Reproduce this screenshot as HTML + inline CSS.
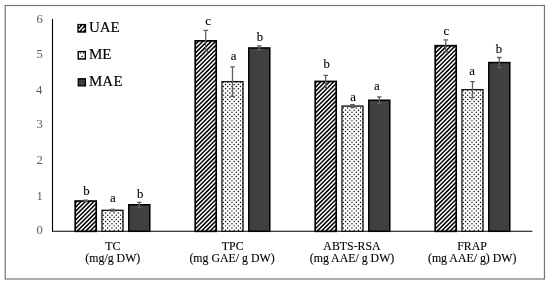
<!DOCTYPE html>
<html><head><meta charset="utf-8"><title>chart</title>
<style>
html,body{margin:0;padding:0;background:#fff;}
svg{display:block;}
text{font-family:"Liberation Serif","Times New Roman",serif;}
</style></head><body>
<svg width="550" height="284" viewBox="0 0 550 284">
<defs>
</defs>
<rect width="550" height="284" fill="#fff"/>
<rect x="5.2" y="5.5" width="539.25" height="273.5" fill="none" stroke="#747474" stroke-width="1.2"/>

<line x1="52.5" y1="18.9" x2="52.5" y2="231.9" stroke="#000" stroke-width="1.1"/>
<line x1="52" y1="231.3" x2="532.4" y2="231.3" stroke="#000" stroke-width="1.1"/>
<text x="39.6" y="234.20" font-size="12.6" fill="#595959" text-anchor="middle">0</text>
<text x="39.6" y="199.67" font-size="12.6" fill="#595959" text-anchor="middle">1</text>
<text x="39.6" y="164.04" font-size="12.6" fill="#595959" text-anchor="middle">2</text>
<text x="39.6" y="128.41" font-size="12.6" fill="#595959" text-anchor="middle">3</text>
<text x="39.2" y="93.98" font-size="12.6" fill="#595959" text-anchor="middle">4</text>
<text x="39.6" y="58.30" font-size="12.6" fill="#595959" text-anchor="middle">5</text>
<text x="39.6" y="22.52" font-size="12.6" fill="#595959" text-anchor="middle">6</text>
<clipPath id="c0"><rect x="75.20" y="201.05" width="21.00" height="30.25"/></clipPath>
<rect x="75.20" y="201.05" width="21.00" height="30.25" fill="#fff"/>
<path clip-path="url(#c0)" d="M37.45 232.30L69.70 200.05M41.74 232.30L73.99 200.05M46.02 232.30L78.27 200.05M50.31 232.30L82.56 200.05M54.59 232.30L86.84 200.05M58.88 232.30L91.13 200.05M63.16 232.30L95.41 200.05M67.45 232.30L99.70 200.05M71.74 232.30L103.99 200.05M76.02 232.30L108.27 200.05M80.31 232.30L112.56 200.05M84.59 232.30L116.84 200.05M88.88 232.30L121.13 200.05M93.16 232.30L125.41 200.05M97.45 232.30L129.70 200.05M101.74 232.30L133.99 200.05" stroke="#000" stroke-width="1.52" fill="none"/>
<rect x="75.20" y="201.05" width="21.00" height="30.25" fill="none" stroke="#000" stroke-width="1.70"/>
<path d="M85.70 200.25V201.85M83.40 200.25H88.00M83.40 201.85H88.00" stroke="#606060" stroke-width="1.3" fill="none"/>
<text x="86.4" y="194.8" font-size="12.8" fill="#000" stroke="#000" stroke-width="0.12" text-anchor="middle">b</text>
<clipPath id="d0"><rect x="102.00" y="210.30" width="21.00" height="21.00"/></clipPath>
<rect x="102.00" y="210.30" width="21.00" height="21.00" fill="#fff"/>
<path clip-path="url(#d0)" d="M101.26 213.00h0M101.26 217.29h0M101.26 221.57h0M101.26 225.86h0M101.26 230.14h0M105.55 213.00h0M105.55 217.29h0M105.55 221.57h0M105.55 225.86h0M105.55 230.14h0M109.84 213.00h0M109.84 217.29h0M109.84 221.57h0M109.84 225.86h0M109.84 230.14h0M114.12 213.00h0M114.12 217.29h0M114.12 221.57h0M114.12 225.86h0M114.12 230.14h0M118.41 213.00h0M118.41 217.29h0M118.41 221.57h0M118.41 225.86h0M118.41 230.14h0M122.69 213.00h0M122.69 217.29h0M122.69 221.57h0M122.69 225.86h0M122.69 230.14h0M103.41 210.86h0M103.41 215.14h0M103.41 219.43h0M103.41 223.71h0M103.41 228.00h0M103.41 232.29h0M107.69 210.86h0M107.69 215.14h0M107.69 219.43h0M107.69 223.71h0M107.69 228.00h0M107.69 232.29h0M111.98 210.86h0M111.98 215.14h0M111.98 219.43h0M111.98 223.71h0M111.98 228.00h0M111.98 232.29h0M116.26 210.86h0M116.26 215.14h0M116.26 219.43h0M116.26 223.71h0M116.26 228.00h0M116.26 232.29h0M120.55 210.86h0M120.55 215.14h0M120.55 219.43h0M120.55 223.71h0M120.55 228.00h0M120.55 232.29h0" stroke="#000" stroke-width="1.44" stroke-linecap="round" fill="none"/>
<rect x="102.00" y="210.30" width="21.00" height="21.00" fill="none" stroke="#141414" stroke-width="1.35"/>
<path d="M112.50 209.50V211.10M110.20 209.50H114.80M110.20 211.10H114.80" stroke="#606060" stroke-width="1.3" fill="none"/>
<text x="112.8" y="202.0" font-size="12.8" fill="#000" stroke="#000" stroke-width="0.12" text-anchor="middle">a</text>
<rect x="128.80" y="204.75" width="21.00" height="26.55" fill="#404040" stroke="#000" stroke-width="1.50"/>
<path d="M139.30 202.45V207.05M137.00 202.45H141.60M137.00 207.05H141.60" stroke="#606060" stroke-width="1.3" fill="none"/>
<text x="140.2" y="198.3" font-size="12.8" fill="#000" stroke="#000" stroke-width="0.12" text-anchor="middle">b</text>
<clipPath id="c1"><rect x="195.20" y="40.85" width="21.00" height="190.45"/></clipPath>
<rect x="195.20" y="40.85" width="21.00" height="190.45" fill="#fff"/>
<path clip-path="url(#c1)" d="M-1.12 232.30L191.33 39.85M3.16 232.30L195.61 39.85M7.45 232.30L199.90 39.85M11.74 232.30L204.19 39.85M16.02 232.30L208.47 39.85M20.31 232.30L212.76 39.85M24.59 232.30L217.04 39.85M28.88 232.30L221.33 39.85M33.16 232.30L225.61 39.85M37.45 232.30L229.90 39.85M41.74 232.30L234.19 39.85M46.02 232.30L238.47 39.85M50.31 232.30L242.76 39.85M54.59 232.30L247.04 39.85M58.88 232.30L251.33 39.85M63.16 232.30L255.61 39.85M67.45 232.30L259.90 39.85M71.74 232.30L264.19 39.85M76.02 232.30L268.47 39.85M80.31 232.30L272.76 39.85M84.59 232.30L277.04 39.85M88.88 232.30L281.33 39.85M93.16 232.30L285.61 39.85M97.45 232.30L289.90 39.85M101.74 232.30L294.19 39.85M106.02 232.30L298.47 39.85M110.31 232.30L302.76 39.85M114.59 232.30L307.04 39.85M118.88 232.30L311.33 39.85M123.16 232.30L315.61 39.85M127.45 232.30L319.90 39.85M131.74 232.30L324.19 39.85M136.02 232.30L328.47 39.85M140.31 232.30L332.76 39.85M144.59 232.30L337.04 39.85M148.88 232.30L341.33 39.85M153.16 232.30L345.61 39.85M157.45 232.30L349.90 39.85M161.74 232.30L354.19 39.85M166.02 232.30L358.47 39.85M170.31 232.30L362.76 39.85M174.59 232.30L367.04 39.85M178.88 232.30L371.33 39.85M183.16 232.30L375.61 39.85M187.45 232.30L379.90 39.85M191.74 232.30L384.19 39.85M196.02 232.30L388.47 39.85M200.31 232.30L392.76 39.85M204.59 232.30L397.04 39.85M208.88 232.30L401.33 39.85M213.16 232.30L405.61 39.85M217.45 232.30L409.90 39.85M221.74 232.30L414.19 39.85" stroke="#000" stroke-width="1.52" fill="none"/>
<rect x="195.20" y="40.85" width="21.00" height="190.45" fill="none" stroke="#000" stroke-width="1.70"/>
<path d="M205.70 30.45V51.25M203.40 30.45H208.00M203.40 51.25H208.00" stroke="#606060" stroke-width="1.3" fill="none"/>
<text x="208.2" y="24.8" font-size="12.8" fill="#000" stroke="#000" stroke-width="0.12" text-anchor="middle">c</text>
<clipPath id="d1"><rect x="222.00" y="81.65" width="21.00" height="149.65"/></clipPath>
<rect x="222.00" y="81.65" width="21.00" height="149.65" fill="#fff"/>
<path clip-path="url(#d1)" d="M221.26 84.43h0M221.26 88.71h0M221.26 93.00h0M221.26 97.29h0M221.26 101.57h0M221.26 105.86h0M221.26 110.14h0M221.26 114.43h0M221.26 118.71h0M221.26 123.00h0M221.26 127.29h0M221.26 131.57h0M221.26 135.86h0M221.26 140.14h0M221.26 144.43h0M221.26 148.71h0M221.26 153.00h0M221.26 157.29h0M221.26 161.57h0M221.26 165.86h0M221.26 170.14h0M221.26 174.43h0M221.26 178.71h0M221.26 183.00h0M221.26 187.29h0M221.26 191.57h0M221.26 195.86h0M221.26 200.14h0M221.26 204.43h0M221.26 208.71h0M221.26 213.00h0M221.26 217.29h0M221.26 221.57h0M221.26 225.86h0M221.26 230.14h0M225.55 84.43h0M225.55 88.71h0M225.55 93.00h0M225.55 97.29h0M225.55 101.57h0M225.55 105.86h0M225.55 110.14h0M225.55 114.43h0M225.55 118.71h0M225.55 123.00h0M225.55 127.29h0M225.55 131.57h0M225.55 135.86h0M225.55 140.14h0M225.55 144.43h0M225.55 148.71h0M225.55 153.00h0M225.55 157.29h0M225.55 161.57h0M225.55 165.86h0M225.55 170.14h0M225.55 174.43h0M225.55 178.71h0M225.55 183.00h0M225.55 187.29h0M225.55 191.57h0M225.55 195.86h0M225.55 200.14h0M225.55 204.43h0M225.55 208.71h0M225.55 213.00h0M225.55 217.29h0M225.55 221.57h0M225.55 225.86h0M225.55 230.14h0M229.84 84.43h0M229.84 88.71h0M229.84 93.00h0M229.84 97.29h0M229.84 101.57h0M229.84 105.86h0M229.84 110.14h0M229.84 114.43h0M229.84 118.71h0M229.84 123.00h0M229.84 127.29h0M229.84 131.57h0M229.84 135.86h0M229.84 140.14h0M229.84 144.43h0M229.84 148.71h0M229.84 153.00h0M229.84 157.29h0M229.84 161.57h0M229.84 165.86h0M229.84 170.14h0M229.84 174.43h0M229.84 178.71h0M229.84 183.00h0M229.84 187.29h0M229.84 191.57h0M229.84 195.86h0M229.84 200.14h0M229.84 204.43h0M229.84 208.71h0M229.84 213.00h0M229.84 217.29h0M229.84 221.57h0M229.84 225.86h0M229.84 230.14h0M234.12 84.43h0M234.12 88.71h0M234.12 93.00h0M234.12 97.29h0M234.12 101.57h0M234.12 105.86h0M234.12 110.14h0M234.12 114.43h0M234.12 118.71h0M234.12 123.00h0M234.12 127.29h0M234.12 131.57h0M234.12 135.86h0M234.12 140.14h0M234.12 144.43h0M234.12 148.71h0M234.12 153.00h0M234.12 157.29h0M234.12 161.57h0M234.12 165.86h0M234.12 170.14h0M234.12 174.43h0M234.12 178.71h0M234.12 183.00h0M234.12 187.29h0M234.12 191.57h0M234.12 195.86h0M234.12 200.14h0M234.12 204.43h0M234.12 208.71h0M234.12 213.00h0M234.12 217.29h0M234.12 221.57h0M234.12 225.86h0M234.12 230.14h0M238.41 84.43h0M238.41 88.71h0M238.41 93.00h0M238.41 97.29h0M238.41 101.57h0M238.41 105.86h0M238.41 110.14h0M238.41 114.43h0M238.41 118.71h0M238.41 123.00h0M238.41 127.29h0M238.41 131.57h0M238.41 135.86h0M238.41 140.14h0M238.41 144.43h0M238.41 148.71h0M238.41 153.00h0M238.41 157.29h0M238.41 161.57h0M238.41 165.86h0M238.41 170.14h0M238.41 174.43h0M238.41 178.71h0M238.41 183.00h0M238.41 187.29h0M238.41 191.57h0M238.41 195.86h0M238.41 200.14h0M238.41 204.43h0M238.41 208.71h0M238.41 213.00h0M238.41 217.29h0M238.41 221.57h0M238.41 225.86h0M238.41 230.14h0M242.69 84.43h0M242.69 88.71h0M242.69 93.00h0M242.69 97.29h0M242.69 101.57h0M242.69 105.86h0M242.69 110.14h0M242.69 114.43h0M242.69 118.71h0M242.69 123.00h0M242.69 127.29h0M242.69 131.57h0M242.69 135.86h0M242.69 140.14h0M242.69 144.43h0M242.69 148.71h0M242.69 153.00h0M242.69 157.29h0M242.69 161.57h0M242.69 165.86h0M242.69 170.14h0M242.69 174.43h0M242.69 178.71h0M242.69 183.00h0M242.69 187.29h0M242.69 191.57h0M242.69 195.86h0M242.69 200.14h0M242.69 204.43h0M242.69 208.71h0M242.69 213.00h0M242.69 217.29h0M242.69 221.57h0M242.69 225.86h0M242.69 230.14h0M223.41 82.29h0M223.41 86.57h0M223.41 90.86h0M223.41 95.14h0M223.41 99.43h0M223.41 103.71h0M223.41 108.00h0M223.41 112.29h0M223.41 116.57h0M223.41 120.86h0M223.41 125.14h0M223.41 129.43h0M223.41 133.71h0M223.41 138.00h0M223.41 142.29h0M223.41 146.57h0M223.41 150.86h0M223.41 155.14h0M223.41 159.43h0M223.41 163.71h0M223.41 168.00h0M223.41 172.29h0M223.41 176.57h0M223.41 180.86h0M223.41 185.14h0M223.41 189.43h0M223.41 193.71h0M223.41 198.00h0M223.41 202.29h0M223.41 206.57h0M223.41 210.86h0M223.41 215.14h0M223.41 219.43h0M223.41 223.71h0M223.41 228.00h0M223.41 232.29h0M227.69 82.29h0M227.69 86.57h0M227.69 90.86h0M227.69 95.14h0M227.69 99.43h0M227.69 103.71h0M227.69 108.00h0M227.69 112.29h0M227.69 116.57h0M227.69 120.86h0M227.69 125.14h0M227.69 129.43h0M227.69 133.71h0M227.69 138.00h0M227.69 142.29h0M227.69 146.57h0M227.69 150.86h0M227.69 155.14h0M227.69 159.43h0M227.69 163.71h0M227.69 168.00h0M227.69 172.29h0M227.69 176.57h0M227.69 180.86h0M227.69 185.14h0M227.69 189.43h0M227.69 193.71h0M227.69 198.00h0M227.69 202.29h0M227.69 206.57h0M227.69 210.86h0M227.69 215.14h0M227.69 219.43h0M227.69 223.71h0M227.69 228.00h0M227.69 232.29h0M231.98 82.29h0M231.98 86.57h0M231.98 90.86h0M231.98 95.14h0M231.98 99.43h0M231.98 103.71h0M231.98 108.00h0M231.98 112.29h0M231.98 116.57h0M231.98 120.86h0M231.98 125.14h0M231.98 129.43h0M231.98 133.71h0M231.98 138.00h0M231.98 142.29h0M231.98 146.57h0M231.98 150.86h0M231.98 155.14h0M231.98 159.43h0M231.98 163.71h0M231.98 168.00h0M231.98 172.29h0M231.98 176.57h0M231.98 180.86h0M231.98 185.14h0M231.98 189.43h0M231.98 193.71h0M231.98 198.00h0M231.98 202.29h0M231.98 206.57h0M231.98 210.86h0M231.98 215.14h0M231.98 219.43h0M231.98 223.71h0M231.98 228.00h0M231.98 232.29h0M236.26 82.29h0M236.26 86.57h0M236.26 90.86h0M236.26 95.14h0M236.26 99.43h0M236.26 103.71h0M236.26 108.00h0M236.26 112.29h0M236.26 116.57h0M236.26 120.86h0M236.26 125.14h0M236.26 129.43h0M236.26 133.71h0M236.26 138.00h0M236.26 142.29h0M236.26 146.57h0M236.26 150.86h0M236.26 155.14h0M236.26 159.43h0M236.26 163.71h0M236.26 168.00h0M236.26 172.29h0M236.26 176.57h0M236.26 180.86h0M236.26 185.14h0M236.26 189.43h0M236.26 193.71h0M236.26 198.00h0M236.26 202.29h0M236.26 206.57h0M236.26 210.86h0M236.26 215.14h0M236.26 219.43h0M236.26 223.71h0M236.26 228.00h0M236.26 232.29h0M240.55 82.29h0M240.55 86.57h0M240.55 90.86h0M240.55 95.14h0M240.55 99.43h0M240.55 103.71h0M240.55 108.00h0M240.55 112.29h0M240.55 116.57h0M240.55 120.86h0M240.55 125.14h0M240.55 129.43h0M240.55 133.71h0M240.55 138.00h0M240.55 142.29h0M240.55 146.57h0M240.55 150.86h0M240.55 155.14h0M240.55 159.43h0M240.55 163.71h0M240.55 168.00h0M240.55 172.29h0M240.55 176.57h0M240.55 180.86h0M240.55 185.14h0M240.55 189.43h0M240.55 193.71h0M240.55 198.00h0M240.55 202.29h0M240.55 206.57h0M240.55 210.86h0M240.55 215.14h0M240.55 219.43h0M240.55 223.71h0M240.55 228.00h0M240.55 232.29h0" stroke="#000" stroke-width="1.44" stroke-linecap="round" fill="none"/>
<rect x="222.00" y="81.65" width="21.00" height="149.65" fill="none" stroke="#141414" stroke-width="1.35"/>
<path d="M232.50 66.85V96.45M230.20 66.85H234.80M230.20 96.45H234.80" stroke="#606060" stroke-width="1.3" fill="none"/>
<text x="233.7" y="60.1" font-size="12.8" fill="#000" stroke="#000" stroke-width="0.12" text-anchor="middle">a</text>
<rect x="248.80" y="47.95" width="21.00" height="183.35" fill="#404040" stroke="#000" stroke-width="1.50"/>
<path d="M259.30 45.95V49.95M257.00 45.95H261.60M257.00 49.95H261.60" stroke="#606060" stroke-width="1.3" fill="none"/>
<text x="259.9" y="40.8" font-size="12.8" fill="#000" stroke="#000" stroke-width="0.12" text-anchor="middle">b</text>
<clipPath id="c2"><rect x="315.20" y="81.45" width="21.00" height="149.85"/></clipPath>
<rect x="315.20" y="81.45" width="21.00" height="149.85" fill="#fff"/>
<path clip-path="url(#c2)" d="M157.45 232.30L309.30 80.45M161.74 232.30L313.59 80.45M166.02 232.30L317.87 80.45M170.31 232.30L322.16 80.45M174.59 232.30L326.44 80.45M178.88 232.30L330.73 80.45M183.16 232.30L335.01 80.45M187.45 232.30L339.30 80.45M191.74 232.30L343.59 80.45M196.02 232.30L347.87 80.45M200.31 232.30L352.16 80.45M204.59 232.30L356.44 80.45M208.88 232.30L360.73 80.45M213.16 232.30L365.01 80.45M217.45 232.30L369.30 80.45M221.74 232.30L373.59 80.45M226.02 232.30L377.87 80.45M230.31 232.30L382.16 80.45M234.59 232.30L386.44 80.45M238.88 232.30L390.73 80.45M243.16 232.30L395.01 80.45M247.45 232.30L399.30 80.45M251.74 232.30L403.59 80.45M256.02 232.30L407.87 80.45M260.31 232.30L412.16 80.45M264.59 232.30L416.44 80.45M268.88 232.30L420.73 80.45M273.16 232.30L425.01 80.45M277.45 232.30L429.30 80.45M281.74 232.30L433.59 80.45M286.02 232.30L437.87 80.45M290.31 232.30L442.16 80.45M294.59 232.30L446.44 80.45M298.88 232.30L450.73 80.45M303.16 232.30L455.01 80.45M307.45 232.30L459.30 80.45M311.74 232.30L463.59 80.45M316.02 232.30L467.87 80.45M320.31 232.30L472.16 80.45M324.59 232.30L476.44 80.45M328.88 232.30L480.73 80.45M333.16 232.30L485.01 80.45M337.45 232.30L489.30 80.45M341.74 232.30L493.59 80.45" stroke="#000" stroke-width="1.52" fill="none"/>
<rect x="315.20" y="81.45" width="21.00" height="149.85" fill="none" stroke="#000" stroke-width="1.70"/>
<path d="M325.70 75.35V87.55M323.40 75.35H328.00M323.40 87.55H328.00" stroke="#606060" stroke-width="1.3" fill="none"/>
<text x="326.7" y="68.3" font-size="12.8" fill="#000" stroke="#000" stroke-width="0.12" text-anchor="middle">b</text>
<clipPath id="d2"><rect x="342.00" y="106.05" width="21.00" height="125.25"/></clipPath>
<rect x="342.00" y="106.05" width="21.00" height="125.25" fill="#fff"/>
<path clip-path="url(#d2)" d="M341.26 105.86h0M341.26 110.14h0M341.26 114.43h0M341.26 118.71h0M341.26 123.00h0M341.26 127.29h0M341.26 131.57h0M341.26 135.86h0M341.26 140.14h0M341.26 144.43h0M341.26 148.71h0M341.26 153.00h0M341.26 157.29h0M341.26 161.57h0M341.26 165.86h0M341.26 170.14h0M341.26 174.43h0M341.26 178.71h0M341.26 183.00h0M341.26 187.29h0M341.26 191.57h0M341.26 195.86h0M341.26 200.14h0M341.26 204.43h0M341.26 208.71h0M341.26 213.00h0M341.26 217.29h0M341.26 221.57h0M341.26 225.86h0M341.26 230.14h0M345.55 105.86h0M345.55 110.14h0M345.55 114.43h0M345.55 118.71h0M345.55 123.00h0M345.55 127.29h0M345.55 131.57h0M345.55 135.86h0M345.55 140.14h0M345.55 144.43h0M345.55 148.71h0M345.55 153.00h0M345.55 157.29h0M345.55 161.57h0M345.55 165.86h0M345.55 170.14h0M345.55 174.43h0M345.55 178.71h0M345.55 183.00h0M345.55 187.29h0M345.55 191.57h0M345.55 195.86h0M345.55 200.14h0M345.55 204.43h0M345.55 208.71h0M345.55 213.00h0M345.55 217.29h0M345.55 221.57h0M345.55 225.86h0M345.55 230.14h0M349.84 105.86h0M349.84 110.14h0M349.84 114.43h0M349.84 118.71h0M349.84 123.00h0M349.84 127.29h0M349.84 131.57h0M349.84 135.86h0M349.84 140.14h0M349.84 144.43h0M349.84 148.71h0M349.84 153.00h0M349.84 157.29h0M349.84 161.57h0M349.84 165.86h0M349.84 170.14h0M349.84 174.43h0M349.84 178.71h0M349.84 183.00h0M349.84 187.29h0M349.84 191.57h0M349.84 195.86h0M349.84 200.14h0M349.84 204.43h0M349.84 208.71h0M349.84 213.00h0M349.84 217.29h0M349.84 221.57h0M349.84 225.86h0M349.84 230.14h0M354.12 105.86h0M354.12 110.14h0M354.12 114.43h0M354.12 118.71h0M354.12 123.00h0M354.12 127.29h0M354.12 131.57h0M354.12 135.86h0M354.12 140.14h0M354.12 144.43h0M354.12 148.71h0M354.12 153.00h0M354.12 157.29h0M354.12 161.57h0M354.12 165.86h0M354.12 170.14h0M354.12 174.43h0M354.12 178.71h0M354.12 183.00h0M354.12 187.29h0M354.12 191.57h0M354.12 195.86h0M354.12 200.14h0M354.12 204.43h0M354.12 208.71h0M354.12 213.00h0M354.12 217.29h0M354.12 221.57h0M354.12 225.86h0M354.12 230.14h0M358.41 105.86h0M358.41 110.14h0M358.41 114.43h0M358.41 118.71h0M358.41 123.00h0M358.41 127.29h0M358.41 131.57h0M358.41 135.86h0M358.41 140.14h0M358.41 144.43h0M358.41 148.71h0M358.41 153.00h0M358.41 157.29h0M358.41 161.57h0M358.41 165.86h0M358.41 170.14h0M358.41 174.43h0M358.41 178.71h0M358.41 183.00h0M358.41 187.29h0M358.41 191.57h0M358.41 195.86h0M358.41 200.14h0M358.41 204.43h0M358.41 208.71h0M358.41 213.00h0M358.41 217.29h0M358.41 221.57h0M358.41 225.86h0M358.41 230.14h0M362.69 105.86h0M362.69 110.14h0M362.69 114.43h0M362.69 118.71h0M362.69 123.00h0M362.69 127.29h0M362.69 131.57h0M362.69 135.86h0M362.69 140.14h0M362.69 144.43h0M362.69 148.71h0M362.69 153.00h0M362.69 157.29h0M362.69 161.57h0M362.69 165.86h0M362.69 170.14h0M362.69 174.43h0M362.69 178.71h0M362.69 183.00h0M362.69 187.29h0M362.69 191.57h0M362.69 195.86h0M362.69 200.14h0M362.69 204.43h0M362.69 208.71h0M362.69 213.00h0M362.69 217.29h0M362.69 221.57h0M362.69 225.86h0M362.69 230.14h0M343.41 108.00h0M343.41 112.29h0M343.41 116.57h0M343.41 120.86h0M343.41 125.14h0M343.41 129.43h0M343.41 133.71h0M343.41 138.00h0M343.41 142.29h0M343.41 146.57h0M343.41 150.86h0M343.41 155.14h0M343.41 159.43h0M343.41 163.71h0M343.41 168.00h0M343.41 172.29h0M343.41 176.57h0M343.41 180.86h0M343.41 185.14h0M343.41 189.43h0M343.41 193.71h0M343.41 198.00h0M343.41 202.29h0M343.41 206.57h0M343.41 210.86h0M343.41 215.14h0M343.41 219.43h0M343.41 223.71h0M343.41 228.00h0M343.41 232.29h0M347.69 108.00h0M347.69 112.29h0M347.69 116.57h0M347.69 120.86h0M347.69 125.14h0M347.69 129.43h0M347.69 133.71h0M347.69 138.00h0M347.69 142.29h0M347.69 146.57h0M347.69 150.86h0M347.69 155.14h0M347.69 159.43h0M347.69 163.71h0M347.69 168.00h0M347.69 172.29h0M347.69 176.57h0M347.69 180.86h0M347.69 185.14h0M347.69 189.43h0M347.69 193.71h0M347.69 198.00h0M347.69 202.29h0M347.69 206.57h0M347.69 210.86h0M347.69 215.14h0M347.69 219.43h0M347.69 223.71h0M347.69 228.00h0M347.69 232.29h0M351.98 108.00h0M351.98 112.29h0M351.98 116.57h0M351.98 120.86h0M351.98 125.14h0M351.98 129.43h0M351.98 133.71h0M351.98 138.00h0M351.98 142.29h0M351.98 146.57h0M351.98 150.86h0M351.98 155.14h0M351.98 159.43h0M351.98 163.71h0M351.98 168.00h0M351.98 172.29h0M351.98 176.57h0M351.98 180.86h0M351.98 185.14h0M351.98 189.43h0M351.98 193.71h0M351.98 198.00h0M351.98 202.29h0M351.98 206.57h0M351.98 210.86h0M351.98 215.14h0M351.98 219.43h0M351.98 223.71h0M351.98 228.00h0M351.98 232.29h0M356.26 108.00h0M356.26 112.29h0M356.26 116.57h0M356.26 120.86h0M356.26 125.14h0M356.26 129.43h0M356.26 133.71h0M356.26 138.00h0M356.26 142.29h0M356.26 146.57h0M356.26 150.86h0M356.26 155.14h0M356.26 159.43h0M356.26 163.71h0M356.26 168.00h0M356.26 172.29h0M356.26 176.57h0M356.26 180.86h0M356.26 185.14h0M356.26 189.43h0M356.26 193.71h0M356.26 198.00h0M356.26 202.29h0M356.26 206.57h0M356.26 210.86h0M356.26 215.14h0M356.26 219.43h0M356.26 223.71h0M356.26 228.00h0M356.26 232.29h0M360.55 108.00h0M360.55 112.29h0M360.55 116.57h0M360.55 120.86h0M360.55 125.14h0M360.55 129.43h0M360.55 133.71h0M360.55 138.00h0M360.55 142.29h0M360.55 146.57h0M360.55 150.86h0M360.55 155.14h0M360.55 159.43h0M360.55 163.71h0M360.55 168.00h0M360.55 172.29h0M360.55 176.57h0M360.55 180.86h0M360.55 185.14h0M360.55 189.43h0M360.55 193.71h0M360.55 198.00h0M360.55 202.29h0M360.55 206.57h0M360.55 210.86h0M360.55 215.14h0M360.55 219.43h0M360.55 223.71h0M360.55 228.00h0M360.55 232.29h0" stroke="#000" stroke-width="1.44" stroke-linecap="round" fill="none"/>
<rect x="342.00" y="106.05" width="21.00" height="125.25" fill="none" stroke="#141414" stroke-width="1.35"/>
<path d="M352.50 104.75V107.35M350.20 104.75H354.80M350.20 107.35H354.80" stroke="#606060" stroke-width="1.3" fill="none"/>
<text x="353.0" y="100.9" font-size="12.8" fill="#000" stroke="#000" stroke-width="0.12" text-anchor="middle">a</text>
<rect x="368.80" y="100.25" width="21.00" height="131.05" fill="#404040" stroke="#000" stroke-width="1.50"/>
<path d="M379.30 96.95V103.55M377.00 96.95H381.60M377.00 103.55H381.60" stroke="#606060" stroke-width="1.3" fill="none"/>
<text x="376.8" y="89.6" font-size="12.8" fill="#000" stroke="#000" stroke-width="0.12" text-anchor="middle">a</text>
<clipPath id="c3"><rect x="435.20" y="45.70" width="21.00" height="185.60"/></clipPath>
<rect x="435.20" y="45.70" width="21.00" height="185.60" fill="#fff"/>
<path clip-path="url(#c3)" d="M243.16 232.30L430.76 44.70M247.45 232.30L435.05 44.70M251.74 232.30L439.34 44.70M256.02 232.30L443.62 44.70M260.31 232.30L447.91 44.70M264.59 232.30L452.19 44.70M268.88 232.30L456.48 44.70M273.16 232.30L460.76 44.70M277.45 232.30L465.05 44.70M281.74 232.30L469.34 44.70M286.02 232.30L473.62 44.70M290.31 232.30L477.91 44.70M294.59 232.30L482.19 44.70M298.88 232.30L486.48 44.70M303.16 232.30L490.76 44.70M307.45 232.30L495.05 44.70M311.74 232.30L499.34 44.70M316.02 232.30L503.62 44.70M320.31 232.30L507.91 44.70M324.59 232.30L512.19 44.70M328.88 232.30L516.48 44.70M333.16 232.30L520.76 44.70M337.45 232.30L525.05 44.70M341.74 232.30L529.34 44.70M346.02 232.30L533.62 44.70M350.31 232.30L537.91 44.70M354.59 232.30L542.19 44.70M358.88 232.30L546.48 44.70M363.16 232.30L550.76 44.70M367.45 232.30L555.05 44.70M371.74 232.30L559.34 44.70M376.02 232.30L563.62 44.70M380.31 232.30L567.91 44.70M384.59 232.30L572.19 44.70M388.88 232.30L576.48 44.70M393.16 232.30L580.76 44.70M397.45 232.30L585.05 44.70M401.74 232.30L589.34 44.70M406.02 232.30L593.62 44.70M410.31 232.30L597.91 44.70M414.59 232.30L602.19 44.70M418.88 232.30L606.48 44.70M423.16 232.30L610.76 44.70M427.45 232.30L615.05 44.70M431.74 232.30L619.34 44.70M436.02 232.30L623.62 44.70M440.31 232.30L627.91 44.70M444.59 232.30L632.19 44.70M448.88 232.30L636.48 44.70M453.16 232.30L640.76 44.70M457.45 232.30L645.05 44.70M461.74 232.30L649.34 44.70" stroke="#000" stroke-width="1.52" fill="none"/>
<rect x="435.20" y="45.70" width="21.00" height="185.60" fill="none" stroke="#000" stroke-width="1.70"/>
<path d="M445.70 39.80V51.60M443.40 39.80H448.00M443.40 51.60H448.00" stroke="#606060" stroke-width="1.3" fill="none"/>
<text x="446.4" y="34.6" font-size="12.8" fill="#000" stroke="#000" stroke-width="0.12" text-anchor="middle">c</text>
<clipPath id="d3"><rect x="462.00" y="89.65" width="21.00" height="141.65"/></clipPath>
<rect x="462.00" y="89.65" width="21.00" height="141.65" fill="#fff"/>
<path clip-path="url(#d3)" d="M461.26 88.71h0M461.26 93.00h0M461.26 97.29h0M461.26 101.57h0M461.26 105.86h0M461.26 110.14h0M461.26 114.43h0M461.26 118.71h0M461.26 123.00h0M461.26 127.29h0M461.26 131.57h0M461.26 135.86h0M461.26 140.14h0M461.26 144.43h0M461.26 148.71h0M461.26 153.00h0M461.26 157.29h0M461.26 161.57h0M461.26 165.86h0M461.26 170.14h0M461.26 174.43h0M461.26 178.71h0M461.26 183.00h0M461.26 187.29h0M461.26 191.57h0M461.26 195.86h0M461.26 200.14h0M461.26 204.43h0M461.26 208.71h0M461.26 213.00h0M461.26 217.29h0M461.26 221.57h0M461.26 225.86h0M461.26 230.14h0M465.55 88.71h0M465.55 93.00h0M465.55 97.29h0M465.55 101.57h0M465.55 105.86h0M465.55 110.14h0M465.55 114.43h0M465.55 118.71h0M465.55 123.00h0M465.55 127.29h0M465.55 131.57h0M465.55 135.86h0M465.55 140.14h0M465.55 144.43h0M465.55 148.71h0M465.55 153.00h0M465.55 157.29h0M465.55 161.57h0M465.55 165.86h0M465.55 170.14h0M465.55 174.43h0M465.55 178.71h0M465.55 183.00h0M465.55 187.29h0M465.55 191.57h0M465.55 195.86h0M465.55 200.14h0M465.55 204.43h0M465.55 208.71h0M465.55 213.00h0M465.55 217.29h0M465.55 221.57h0M465.55 225.86h0M465.55 230.14h0M469.84 88.71h0M469.84 93.00h0M469.84 97.29h0M469.84 101.57h0M469.84 105.86h0M469.84 110.14h0M469.84 114.43h0M469.84 118.71h0M469.84 123.00h0M469.84 127.29h0M469.84 131.57h0M469.84 135.86h0M469.84 140.14h0M469.84 144.43h0M469.84 148.71h0M469.84 153.00h0M469.84 157.29h0M469.84 161.57h0M469.84 165.86h0M469.84 170.14h0M469.84 174.43h0M469.84 178.71h0M469.84 183.00h0M469.84 187.29h0M469.84 191.57h0M469.84 195.86h0M469.84 200.14h0M469.84 204.43h0M469.84 208.71h0M469.84 213.00h0M469.84 217.29h0M469.84 221.57h0M469.84 225.86h0M469.84 230.14h0M474.12 88.71h0M474.12 93.00h0M474.12 97.29h0M474.12 101.57h0M474.12 105.86h0M474.12 110.14h0M474.12 114.43h0M474.12 118.71h0M474.12 123.00h0M474.12 127.29h0M474.12 131.57h0M474.12 135.86h0M474.12 140.14h0M474.12 144.43h0M474.12 148.71h0M474.12 153.00h0M474.12 157.29h0M474.12 161.57h0M474.12 165.86h0M474.12 170.14h0M474.12 174.43h0M474.12 178.71h0M474.12 183.00h0M474.12 187.29h0M474.12 191.57h0M474.12 195.86h0M474.12 200.14h0M474.12 204.43h0M474.12 208.71h0M474.12 213.00h0M474.12 217.29h0M474.12 221.57h0M474.12 225.86h0M474.12 230.14h0M478.41 88.71h0M478.41 93.00h0M478.41 97.29h0M478.41 101.57h0M478.41 105.86h0M478.41 110.14h0M478.41 114.43h0M478.41 118.71h0M478.41 123.00h0M478.41 127.29h0M478.41 131.57h0M478.41 135.86h0M478.41 140.14h0M478.41 144.43h0M478.41 148.71h0M478.41 153.00h0M478.41 157.29h0M478.41 161.57h0M478.41 165.86h0M478.41 170.14h0M478.41 174.43h0M478.41 178.71h0M478.41 183.00h0M478.41 187.29h0M478.41 191.57h0M478.41 195.86h0M478.41 200.14h0M478.41 204.43h0M478.41 208.71h0M478.41 213.00h0M478.41 217.29h0M478.41 221.57h0M478.41 225.86h0M478.41 230.14h0M482.69 88.71h0M482.69 93.00h0M482.69 97.29h0M482.69 101.57h0M482.69 105.86h0M482.69 110.14h0M482.69 114.43h0M482.69 118.71h0M482.69 123.00h0M482.69 127.29h0M482.69 131.57h0M482.69 135.86h0M482.69 140.14h0M482.69 144.43h0M482.69 148.71h0M482.69 153.00h0M482.69 157.29h0M482.69 161.57h0M482.69 165.86h0M482.69 170.14h0M482.69 174.43h0M482.69 178.71h0M482.69 183.00h0M482.69 187.29h0M482.69 191.57h0M482.69 195.86h0M482.69 200.14h0M482.69 204.43h0M482.69 208.71h0M482.69 213.00h0M482.69 217.29h0M482.69 221.57h0M482.69 225.86h0M482.69 230.14h0M463.41 90.86h0M463.41 95.14h0M463.41 99.43h0M463.41 103.71h0M463.41 108.00h0M463.41 112.29h0M463.41 116.57h0M463.41 120.86h0M463.41 125.14h0M463.41 129.43h0M463.41 133.71h0M463.41 138.00h0M463.41 142.29h0M463.41 146.57h0M463.41 150.86h0M463.41 155.14h0M463.41 159.43h0M463.41 163.71h0M463.41 168.00h0M463.41 172.29h0M463.41 176.57h0M463.41 180.86h0M463.41 185.14h0M463.41 189.43h0M463.41 193.71h0M463.41 198.00h0M463.41 202.29h0M463.41 206.57h0M463.41 210.86h0M463.41 215.14h0M463.41 219.43h0M463.41 223.71h0M463.41 228.00h0M463.41 232.29h0M467.69 90.86h0M467.69 95.14h0M467.69 99.43h0M467.69 103.71h0M467.69 108.00h0M467.69 112.29h0M467.69 116.57h0M467.69 120.86h0M467.69 125.14h0M467.69 129.43h0M467.69 133.71h0M467.69 138.00h0M467.69 142.29h0M467.69 146.57h0M467.69 150.86h0M467.69 155.14h0M467.69 159.43h0M467.69 163.71h0M467.69 168.00h0M467.69 172.29h0M467.69 176.57h0M467.69 180.86h0M467.69 185.14h0M467.69 189.43h0M467.69 193.71h0M467.69 198.00h0M467.69 202.29h0M467.69 206.57h0M467.69 210.86h0M467.69 215.14h0M467.69 219.43h0M467.69 223.71h0M467.69 228.00h0M467.69 232.29h0M471.98 90.86h0M471.98 95.14h0M471.98 99.43h0M471.98 103.71h0M471.98 108.00h0M471.98 112.29h0M471.98 116.57h0M471.98 120.86h0M471.98 125.14h0M471.98 129.43h0M471.98 133.71h0M471.98 138.00h0M471.98 142.29h0M471.98 146.57h0M471.98 150.86h0M471.98 155.14h0M471.98 159.43h0M471.98 163.71h0M471.98 168.00h0M471.98 172.29h0M471.98 176.57h0M471.98 180.86h0M471.98 185.14h0M471.98 189.43h0M471.98 193.71h0M471.98 198.00h0M471.98 202.29h0M471.98 206.57h0M471.98 210.86h0M471.98 215.14h0M471.98 219.43h0M471.98 223.71h0M471.98 228.00h0M471.98 232.29h0M476.26 90.86h0M476.26 95.14h0M476.26 99.43h0M476.26 103.71h0M476.26 108.00h0M476.26 112.29h0M476.26 116.57h0M476.26 120.86h0M476.26 125.14h0M476.26 129.43h0M476.26 133.71h0M476.26 138.00h0M476.26 142.29h0M476.26 146.57h0M476.26 150.86h0M476.26 155.14h0M476.26 159.43h0M476.26 163.71h0M476.26 168.00h0M476.26 172.29h0M476.26 176.57h0M476.26 180.86h0M476.26 185.14h0M476.26 189.43h0M476.26 193.71h0M476.26 198.00h0M476.26 202.29h0M476.26 206.57h0M476.26 210.86h0M476.26 215.14h0M476.26 219.43h0M476.26 223.71h0M476.26 228.00h0M476.26 232.29h0M480.55 90.86h0M480.55 95.14h0M480.55 99.43h0M480.55 103.71h0M480.55 108.00h0M480.55 112.29h0M480.55 116.57h0M480.55 120.86h0M480.55 125.14h0M480.55 129.43h0M480.55 133.71h0M480.55 138.00h0M480.55 142.29h0M480.55 146.57h0M480.55 150.86h0M480.55 155.14h0M480.55 159.43h0M480.55 163.71h0M480.55 168.00h0M480.55 172.29h0M480.55 176.57h0M480.55 180.86h0M480.55 185.14h0M480.55 189.43h0M480.55 193.71h0M480.55 198.00h0M480.55 202.29h0M480.55 206.57h0M480.55 210.86h0M480.55 215.14h0M480.55 219.43h0M480.55 223.71h0M480.55 228.00h0M480.55 232.29h0" stroke="#000" stroke-width="1.44" stroke-linecap="round" fill="none"/>
<rect x="462.00" y="89.65" width="21.00" height="141.65" fill="none" stroke="#141414" stroke-width="1.35"/>
<path d="M472.50 81.60V97.70M470.20 81.60H474.80M470.20 97.70H474.80" stroke="#606060" stroke-width="1.3" fill="none"/>
<text x="472.0" y="75.0" font-size="12.8" fill="#000" stroke="#000" stroke-width="0.12" text-anchor="middle">a</text>
<rect x="488.80" y="62.55" width="21.00" height="168.75" fill="#404040" stroke="#000" stroke-width="1.50"/>
<path d="M499.30 57.50V67.60M497.00 57.50H501.60M497.00 67.60H501.60" stroke="#606060" stroke-width="1.3" fill="none"/>
<text x="499.0" y="53.2" font-size="12.8" fill="#000" stroke="#000" stroke-width="0.12" text-anchor="middle">b</text>
<text x="112.9" y="249.6" font-size="11.85" fill="#000" stroke="#000" stroke-width="0.12" text-anchor="middle">TC</text>
<text x="112.8" y="261.9" font-size="11.85" fill="#000" stroke="#000" stroke-width="0.12" text-anchor="middle">(mg/g DW)</text>
<text x="232.7" y="249.6" font-size="11.85" fill="#000" stroke="#000" stroke-width="0.12" text-anchor="middle">TPC</text>
<text x="232.0" y="261.9" font-size="11.85" fill="#000" stroke="#000" stroke-width="0.12" text-anchor="middle">(mg GAE/ g DW)</text>
<text x="352.0" y="249.6" font-size="11.85" fill="#000" stroke="#000" stroke-width="0.12" text-anchor="middle">ABTS-RSA</text>
<text x="352.0" y="261.9" font-size="11.85" fill="#000" stroke="#000" stroke-width="0.12" text-anchor="middle">(mg AAE/ g DW)</text>
<text x="472.0" y="249.6" font-size="11.85" fill="#000" stroke="#000" stroke-width="0.12" text-anchor="middle">FRAP</text>
<text x="472.2" y="261.9" font-size="11.85" fill="#000" stroke="#000" stroke-width="0.12" text-anchor="middle">(mg AAE/ g) DW)</text>
<rect x="78.05" y="24.60" width="7.40" height="7.40" fill="#000" stroke="#000" stroke-width="1.4"/>
<path d="M78.8 30.5L83.4 25.4M82.0 30.9L84.8 28.3M79.0 26.2L79.8 25.4" stroke="#fff" stroke-width="1.5" fill="none"/>
<text x="88.9" y="31.6" font-size="15" fill="#000" stroke="#000" stroke-width="0.15">UAE</text>
<rect x="78.25" y="51.60" width="7.10" height="7.40" fill="#fff" stroke="#000" stroke-width="1.4"/>
<ellipse cx="80.45" cy="52.90" rx="0.70" ry="0.60" fill="#000"/>
<ellipse cx="83.55" cy="52.90" rx="0.70" ry="0.60" fill="#000"/>
<ellipse cx="82.00" cy="56.35" rx="0.95" ry="0.70" fill="#000"/>
<ellipse cx="80.30" cy="58.30" rx="0.70" ry="0.60" fill="#000"/>
<ellipse cx="83.70" cy="58.30" rx="0.70" ry="0.60" fill="#000"/>
<text x="88.9" y="58.7" font-size="15" fill="#000" stroke="#000" stroke-width="0.15">ME</text>
<rect x="78.30" y="78.75" width="7.10" height="7.10" fill="#404040" stroke="#000" stroke-width="1.3"/>
<text x="88.9" y="85.8" font-size="15" fill="#000" stroke="#000" stroke-width="0.15">MA<tspan dx="0.35">E</tspan></text>
</svg></body></html>
